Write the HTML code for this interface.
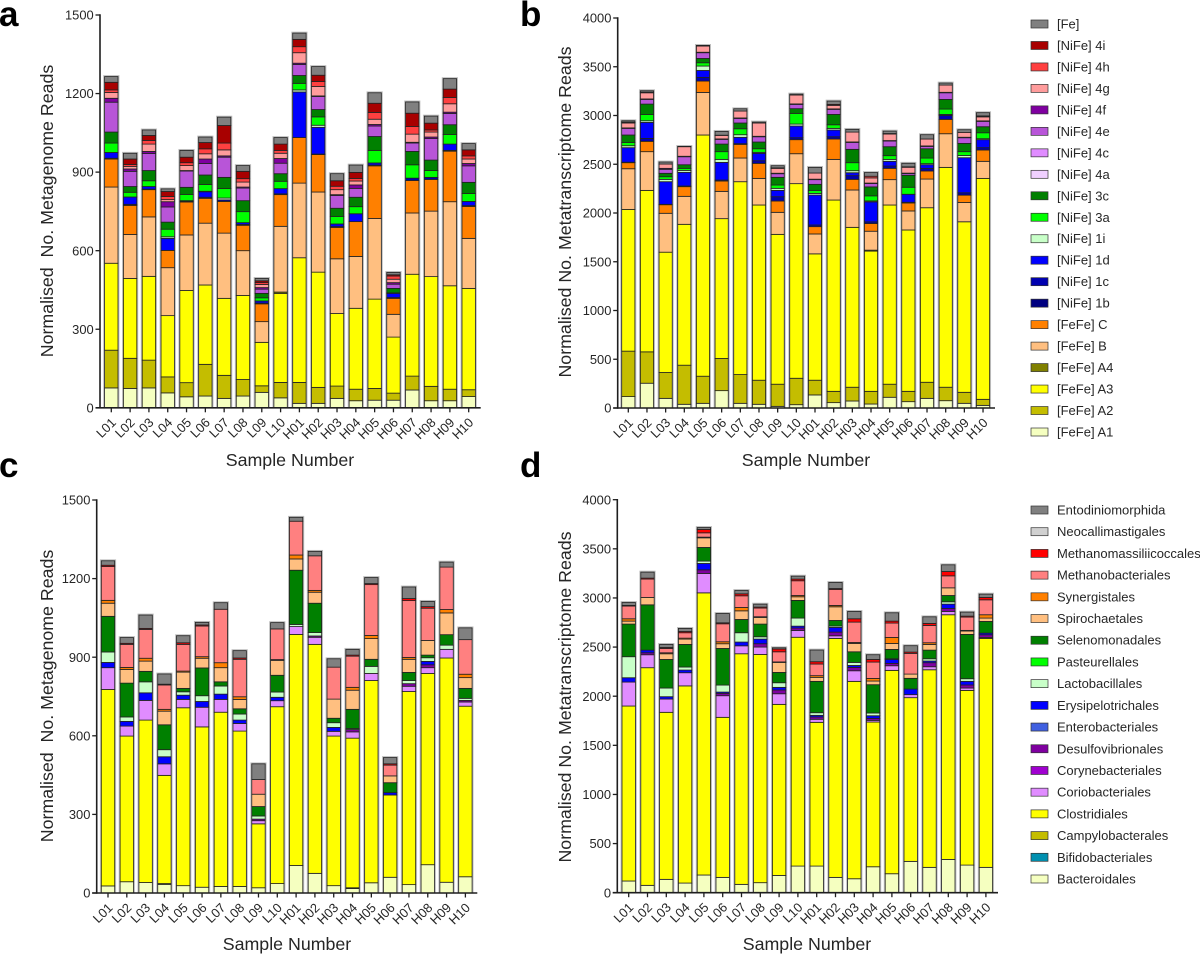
<!DOCTYPE html>
<html lang="en">
<head>
<meta charset="utf-8">
<title>Hydrogenase and taxonomic read counts by sample</title>
<style>
html,body{margin:0;padding:0;background:#fff;}
#chart{display:block;width:1200px;height:954px;}
text{font-family:"Liberation Sans",sans-serif;fill:#262626;}
</style>
</head>
<body>
<svg id="chart" xmlns="http://www.w3.org/2000/svg" width="1200" height="954" viewBox="0 0 1200 954">
<rect x="0" y="0" width="1200" height="954" fill="#fff"/>
<text x="-1" y="26" font-size="35" font-weight="bold" style="fill:#000">a</text>
<text x="520" y="26" font-size="35" font-weight="bold" style="fill:#000">b</text>
<text x="-1" y="477" font-size="35" font-weight="bold" style="fill:#000">c</text>
<text x="520" y="477" font-size="35" font-weight="bold" style="fill:#000">d</text>
<text transform="translate(53,211) rotate(-90)" text-anchor="middle" font-size="17.8">Normalised&#160; No. Metagenome Reads</text>
<text transform="translate(571,212) rotate(-90)" text-anchor="middle" font-size="17.8">Normalised No. Metatranscriptome Reads</text>
<text transform="translate(53,696) rotate(-90)" text-anchor="middle" font-size="17.8">Normalised&#160; No. Metagenome Reads</text>
<text transform="translate(571,697) rotate(-90)" text-anchor="middle" font-size="17.8">Normalised No. Metatranscriptome Reads</text>
<text x="290" y="466" text-anchor="middle" font-size="17.8">Sample Number</text>
<text x="806" y="466" text-anchor="middle" font-size="17.8">Sample Number</text>
<text x="287" y="950" text-anchor="middle" font-size="17.8">Sample Number</text>
<text x="807" y="950" text-anchor="middle" font-size="17.8">Sample Number</text>
<g id="plots"></g>
<g id="legends"></g>
</svg>
<script>
const sampleLabels = ["L01","L02","L03","L04","L05","L06","L07","L08","L09","L10","H01","H02","H03","H04","H05","H06","H07","H08","H09","H10"];
const hydrogenaseSeries = ["[FeFe] A1","[FeFe] A2","[FeFe] A3","[FeFe] A4","[FeFe] B","[FeFe] C","[NiFe] 1b","[NiFe] 1c","[NiFe] 1d","[NiFe] 1i","[NiFe] 3a","[NiFe] 3c","[NiFe] 4a","[NiFe] 4c","[NiFe] 4e","[NiFe] 4f","[NiFe] 4g","[NiFe] 4h","[NiFe] 4i","[Fe]"];
const hydrogenaseColors = ["#f5ffc0","#c4bd00","#ffff00","#808000","#ffbf80","#ff8000","#000080","#0000b0","#0000ff","#c8ffc8","#00ff00","#008000","#f0d0ff","#e08cff","#b855d8","#7f00a0","#ff9c9c","#ff4040","#a80000","#808080"];
const taxonSeries = ["Bacteroidales","Bifidobacteriales","Campylobacterales","Clostridiales","Coriobacteriales","Corynebacteriales","Desulfovibrionales","Enterobacteriales","Erysipelotrichales","Lactobacillales","Pasteurellales","Selenomonadales","Spirochaetales","Synergistales","Methanobacteriales","Methanomassiliicoccales","Neocallimastigales","Entodiniomorphida"];
const taxonColors = ["#f5ffc0","#0090b0","#c4bd00","#ffff00","#e08cff","#a000d0","#7f00a0","#4060e0","#0000ff","#c8ffc8","#00ff00","#008000","#ffbf80","#ff8000","#ff8080","#ff0000","#d0d0d0","#808080"];
const metagenomeTicks = [0,300,600,900,1200,1500];
const transcriptomeTicks = [0,500,1000,1500,2000,2500,3000,3500,4000];

// Panel a: metagenome reads per hydrogenase class, one array per sample, stacked bottom to top
const aL01 = [76,144,332,0,291,107,0,3,22,0,36,42,0,0,114,15,22,10,29,22];
const aL02 = [74,115,305,0,168,111,0,4,28,0,18,22,0,0,58,9,10,7,21,22];
const aL03 = [76,106,320,0,227,104,0,2,10,0,22,39,0,0,65,8,28,14,19,21];
const aL04 = [57,61,234,0,183,66,0,0,46,6,29,27,0,0,58,20,8,12,19,10];
const aL05 = [42,54,352,0,212,126,0,2,3,0,24,27,0,0,62,2,19,11,21,26];
const aL06 = [45,121,303,0,236,95,0,4,21,2,26,36,0,0,44,17,20,19,24,21];
const aL07 = [36,88,294,0,249,121,0,6,0,7,36,43,0,0,77,5,23,26,67,32];
const aL08 = [45,63,321,0,171,97,0,3,7,0,42,42,0,0,48,4,19,13,28,22];
const aL09 = [59,25,166,0,79,68,0,3,8,0,12,17,0,0,16,6,12,7,7,9];
const aL10 = [38,59,340,5,251,121,0,3,20,0,28,29,0,0,40,18,20,11,24,25];
const aH01 = [17,80,476,0,285,174,0,0,174,8,25,30,0,0,42,5,40,23,28,24];
const aH02 = [17,61,440,0,306,143,0,2,102,8,32,28,0,0,50,2,36,19,24,33];
const aH03 = [36,47,277,0,209,120,0,3,10,0,29,31,0,0,49,3,19,13,21,27];
const aH04 = [27,44,309,0,198,133,0,0,30,0,27,36,0,0,34,13,15,10,23,28];
const aH05 = [29,45,341,0,308,201,0,3,8,0,48,53,0,0,40,6,20,26,35,40];
const aH06 = [29,27,214,0,87,61,0,3,16,0,2,17,0,0,16,6,13,12,5,9];
const aH07 = [68,53,389,0,234,124,0,9,0,0,51,51,0,0,32,3,31,29,51,43];
const aH08 = [27,55,419,0,250,121,0,8,0,0,26,40,0,0,82,6,19,8,26,27];
const aH09 = [27,44,395,0,321,193,0,3,24,0,37,37,0,0,43,5,32,24,32,40];
const aH10 = [43,26,387,0,191,122,0,3,16,0,30,43,0,0,63,9,17,12,23,24];
const panelASamples = [aL01,aL02,aL03,aL04,aL05,aL06,aL07,aL08,aL09,aL10,aH01,aH02,aH03,aH04,aH05,aH06,aH07,aH08,aH09,aH10];

// Panel b: metatranscriptome reads per hydrogenase class
const bL01 = [117,466,1454,0,417,62,0,5,149,20,34,76,0,0,68,5,50,5,5,13];
const bL02 = [254,322,1656,0,397,106,0,30,164,17,65,106,0,0,48,5,63,5,2,14];
const bL03 = [99,265,1234,0,399,88,0,4,232,24,27,35,0,0,41,10,44,0,0,21];
const bL04 = [38,401,1445,0,287,99,0,7,140,20,21,37,0,0,82,5,98,0,0,3];
const bL05 = [48,278,2474,0,437,116,0,38,71,45,34,44,0,0,59,5,63,0,0,7];
const bL06 = [178,330,1434,0,280,106,0,10,181,31,79,78,0,0,48,5,36,2,0,39];
const bL07 = [48,295,1978,0,243,140,0,7,65,27,61,59,0,0,47,5,71,0,0,23];
const bL08 = [38,247,1797,0,273,154,0,27,76,10,37,69,0,0,54,5,136,0,0,10];
const bL09 = [17,227,1537,0,226,116,0,44,65,21,34,79,0,0,37,5,50,5,0,22];
const bL10 = [34,271,1996,0,307,144,0,20,120,20,110,48,0,0,44,5,91,0,0,10];
const bH01 = [134,151,1296,0,204,75,0,17,307,17,31,62,0,0,48,5,63,0,0,58];
const bH02 = [55,116,1962,0,417,209,0,23,69,17,37,106,0,0,52,5,36,0,10,34];
const bH03 = [72,141,1640,0,383,109,0,38,30,21,82,137,0,0,71,5,101,0,0,28];
const bH04 = [41,130,1438,10,194,79,0,17,205,10,52,92,0,0,34,5,53,17,0,38];
const bH05 = [110,134,1838,0,260,116,0,24,48,20,38,92,0,0,58,5,67,5,0,25];
const bH06 = [65,106,1655,0,195,82,0,7,82,0,72,123,0,0,17,5,60,5,0,36];
const bH07 = [99,165,1790,0,294,83,0,27,37,11,57,96,0,0,24,5,71,0,0,44];
const bH08 = [75,138,2255,0,345,147,0,41,10,0,55,99,0,0,68,5,74,0,0,21];
const bH09 = [48,113,1749,0,198,75,0,24,360,23,39,85,0,0,58,5,50,0,0,27];
const bH10 = [27,62,2266,0,175,116,0,24,82,10,61,62,0,0,55,5,41,5,5,33];
const panelBSamples = [bL01,bL02,bL03,bL04,bL05,bL06,bL07,bL08,bL09,bL10,bH01,bH02,bH03,bH04,bH05,bH06,bH07,bH08,bH09,bH10];

// Panel c: metagenome reads per taxon
const cL01 = [27,0,0,750,83,0,0,0,20,40,0,136,50,11,129,5,0,17];
const cL02 = [43,0,0,556,38,0,0,0,18,17,0,129,52,8,88,4,0,22];
const cL03 = [40,0,0,620,75,0,0,0,29,42,0,40,39,11,110,4,0,51];
const cL04 = [33,0,3,413,44,0,0,0,27,27,0,95,52,7,93,3,0,39];
const cL05 = [28,0,0,679,32,0,0,0,16,13,0,13,62,4,102,6,0,27];
const cL06 = [22,0,0,612,75,0,0,0,22,22,0,106,37,6,117,4,0,10];
const cL07 = [25,0,0,665,49,0,0,0,20,31,0,16,54,19,204,0,0,25];
const cL08 = [25,0,0,593,29,0,0,0,13,23,0,20,36,10,143,5,0,28];
const cL09 = [20,0,0,244,12,0,6,0,0,12,0,36,47,0,56,0,0,60];
const cL10 = [36,0,0,675,23,0,0,0,13,20,0,64,57,3,117,0,0,24];
const cH01 = [105,0,0,882,30,0,0,0,0,8,0,207,43,15,129,0,0,15];
const cH02 = [75,0,0,874,27,0,5,0,0,13,0,112,42,7,132,0,0,17];
const cH03 = [28,0,0,571,18,0,0,0,15,18,0,17,73,0,122,0,0,32];
const cH04 = [17,0,3,571,24,0,9,0,0,4,0,73,73,11,119,4,0,22];
const cH05 = [39,0,0,772,27,0,0,0,0,27,0,27,79,12,194,4,0,23];
const cH06 = [60,0,0,314,0,0,0,0,9,0,0,38,26,0,41,5,0,24];
const cH07 = [32,0,0,737,20,0,10,0,0,12,0,31,50,7,217,8,0,44];
const cH08 = [108,0,0,730,22,0,11,0,13,14,0,10,56,0,123,6,0,20];
const cH09 = [41,0,0,856,33,0,0,0,0,16,0,40,83,13,162,0,0,19];
const cH10 = [62,0,0,651,16,0,6,0,0,8,0,38,41,13,132,0,0,45];
const panelCSamples = [cL01,cL02,cL03,cL04,cL05,cL06,cL07,cL08,cL09,cL10,cH01,cH02,cH03,cH04,cH05,cH06,cH07,cH08,cH09,cH10];

// Panel d: metatranscriptome reads per taxon
const dL01 = [119,0,0,1781,244,0,0,0,44,214,0,332,30,24,129,7,0,30];
const dL02 = [75,0,0,2215,132,0,20,0,27,0,0,461,75,0,187,10,0,61];
const dL03 = [136,0,0,1700,135,0,0,0,24,88,0,291,58,10,44,10,0,31];
const dL04 = [98,0,0,2007,134,0,0,0,27,31,0,230,54,10,55,13,0,31];
const dL05 = [180,0,0,2872,197,0,37,0,65,24,0,139,98,7,44,34,0,20];
const dL06 = [156,0,0,1629,220,0,24,0,13,71,0,373,48,20,183,10,0,95];
const dL07 = [85,0,0,2347,81,0,0,0,38,95,0,135,88,34,119,20,0,34];
const dL08 = [102,0,0,2323,75,0,34,0,47,24,0,129,68,7,88,10,0,30];
const dL09 = [176,0,0,1741,108,0,38,0,27,47,0,105,102,5,103,28,0,13];
const dL10 = [271,0,0,2329,69,0,24,0,20,82,0,180,37,13,150,17,0,30];
const dH01 = [271,0,0,1463,31,0,23,0,17,27,0,319,41,17,118,24,0,119];
const dH02 = [156,0,0,2432,27,0,37,0,48,14,0,57,139,14,162,10,0,62];
const dH03 = [142,0,0,2009,108,0,34,0,20,31,0,108,85,10,207,34,0,75];
const dH04 = [264,0,0,1473,17,0,20,0,27,28,0,288,37,27,166,27,0,48];
const dH05 = [193,0,0,2070,47,0,24,0,41,6,0,95,61,61,146,20,0,85];
const dH06 = [319,0,0,1666,31,0,0,0,57,0,0,109,43,0,211,13,0,65];
const dH07 = [258,0,0,2011,31,0,41,0,17,23,0,88,58,17,176,21,0,67];
const dH08 = [339,0,0,2490,34,0,30,0,44,24,0,64,78,0,122,44,0,68];
const dH09 = [281,0,0,1778,24,0,31,0,37,27,0,451,34,7,135,10,0,41];
const dH10 = [258,0,0,2330,10,0,27,0,17,0,0,119,34,34,152,24,0,34];
const panelDSamples = [dL01,dL02,dL03,dL04,dL05,dL06,dL07,dL08,dL09,dL10,dH01,dH02,dH03,dH04,dH05,dH06,dH07,dH08,dH09,dH10];

const SVG_NS = "http://www.w3.org/2000/svg";
const plotsLayer = document.getElementById("plots");
const legendsLayer = document.getElementById("legends");

function make(tag, attrs, parent) {
  const el = document.createElementNS(SVG_NS, tag);
  for (const k in attrs) el.setAttribute(k, attrs[k]);
  parent.appendChild(el);
  return el;
}

function drawPanel(id, samples, colors, series, ticks, box) {
  const yMax = ticks[ticks.length - 1];
  const xOf = i => box.firstX + i * box.stepX;
  const yOf = v => box.baseY - (v / yMax) * (box.baseY - box.topY);

  const group = make("g", {}, plotsLayer);
  
  

  samples.forEach((row, i) => {
    const barGroup = make("g", {}, group);
    
    
    const total = row.reduce((a, b) => a + b, 0);
    const halo = make("rect", {
      x: xOf(i) - box.barW / 2 - 0.8, y: yOf(total) - 0.8,
      width: box.barW + 1.6, height: yOf(0) - yOf(total) + 0.8,
      fill: "none", stroke: "#bdbdbd", "stroke-width": 1.2
    }, barGroup);
    
    
    let cum = 0;
    row.forEach((v, s) => {
      if (v <= 0) return;
      const y1 = yOf(cum + v);
      const y0 = yOf(cum);
      const seg = make("rect", {
        x: xOf(i) - box.barW / 2, y: y1,
        width: box.barW, height: y0 - y1,
        fill: colors[s], stroke: "#222222", "stroke-width": 0.8
      }, barGroup);
      
      
      cum += v;
    });
  });

  const yAxis = make("line", {x1: box.axisX, x2: box.axisX, y1: box.topY - 0.7, y2: box.baseY + 0.7, stroke: "#1e1e1e", "stroke-width": 1.6}, group);
  
  
  const xAxis = make("line", {x1: box.axisX - 4.5, x2: box.endX, y1: box.baseY, y2: box.baseY, stroke: "#1e1e1e", "stroke-width": 1.6}, group);
  
  

  ticks.forEach(t => {
    const tick = make("line", {x1: box.axisX - 4.5, x2: box.axisX, y1: yOf(t), y2: yOf(t), stroke: "#1e1e1e", "stroke-width": 1.3}, group);
    
    
    const label = make("text", {x: box.axisX - 6.3, y: yOf(t) + 4.6, "text-anchor": "end", "font-size": 12.9}, group);
    
    
    label.textContent = String(t);
  });

  sampleLabels.forEach((name, i) => {
    const tick = make("line", {x1: xOf(i), x2: xOf(i), y1: box.baseY, y2: box.baseY + 4.5, stroke: "#1e1e1e", "stroke-width": 1.3}, group);
    
    
    const label = make("text", {
      transform: "translate(" + (xOf(i) + 5.5) + "," + (box.baseY + 15.5) + ") rotate(-45)",
      "text-anchor": "end", "font-size": 12.9
    }, group);
    
    
    label.textContent = name;
  });
}

function drawLegend(id, series, colors, layout) {
  const group = make("g", {}, legendsLayer);
  
  
  const count = series.length;
  series.forEach((name, s) => {
    const rowY = layout.bottomY - s * (layout.bottomY - layout.topY) / (count - 1);
    const swatch = make("rect", {x: layout.x, y: rowY - 4, width: 17, height: 8, fill: colors[s], stroke: "#333", "stroke-width": 0.7}, group);
    
    
    const label = make("text", {x: layout.x + 26, y: rowY + 4.5, "font-size": 13}, group);
    
    
    label.textContent = name;
  });
}

drawPanel("a", panelASamples, hydrogenaseColors, hydrogenaseSeries, metagenomeTicks,
  {axisX: 100, endX: 480.7, baseY: 407.8, topY: 15, firstX: 111.3, stepX: 18.81, barW: 13.4});
drawPanel("b", panelBSamples, hydrogenaseColors, hydrogenaseSeries, transcriptomeTicks,
  {axisX: 617.7, endX: 995, baseY: 408, topY: 18, firstX: 628.3, stepX: 18.67, barW: 13.2});
drawPanel("c", panelCSamples, taxonColors, taxonSeries, metagenomeTicks,
  {axisX: 96.7, endX: 477.3, baseY: 893, topY: 500, firstX: 108, stepX: 18.81, barW: 13.4});
drawPanel("d", panelDSamples, taxonColors, taxonSeries, transcriptomeTicks,
  {axisX: 617.3, endX: 998, baseY: 892.7, topY: 499.7, firstX: 628.7, stepX: 18.8, barW: 13.4});
drawLegend("hydrogenase", hydrogenaseSeries, hydrogenaseColors, {x: 1031, topY: 24, bottomY: 432});
drawLegend("taxon", taxonSeries, taxonColors, {x: 1031, topY: 510, bottomY: 879});
</script>
</body>
</html>
